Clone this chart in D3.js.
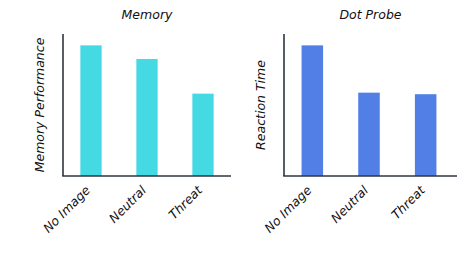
<!DOCTYPE html>
<html>
<head>
<meta charset="utf-8">
<script src="https://cdn.jsdelivr.net/npm/d3@7"></script>
<style>
  body { margin: 0; background: #fff; }
  text { font-family: "DejaVu Sans", sans-serif; font-style: italic; fill: #111; }
</style>
</head>
<body>
<div id="chart"></div>
<script>
// two small panels: memory score vs dot-probe reaction time

const categories = ["No Image", "Neutral", "Threat"];
const memoryValues = [92, 82.4, 58];
const dotProbeValues = [92, 58.7, 57.6];

const panels = [
  { title: "Memory", ylabel: "Memory Performance", values: memoryValues, color: "#45d9e3", x0: 63, x1: 231, end: 231 },
  { title: "Dot Probe", ylabel: "Reaction Time", values: dotProbeValues, color: "#527fe6", x0: 284, x1: 454, end: 457 }
];

const W = 474, H = 266;
const plotTop = 34, plotBottom = 176;

const svg = d3.select("#chart").append("svg")
  .attr("width", W)
  .attr("height", H);

const y = d3.scaleLinear().domain([0, 100]).range([plotBottom, plotTop]);

panels.forEach(p => {
  const g = svg.append("g");

  const x = d3.scaleBand()
    .domain(categories)
    .range([p.x0, p.x1])
    .paddingInner(0.62)
    .paddingOuter(0.31);

  // bars
  g.selectAll(".bar")
    .data(categories.map((c, i) => ({ c, v: p.values[i] })))
    .enter().append("rect")
    .attr("class", "bar")
    .attr("x", d => x(d.c))
    .attr("y", d => y(d.v))
    .attr("width", x.bandwidth())
    .attr("height", d => plotBottom - y(d.v))
    .attr("fill", p.color);

  // axes (just the two lines)
  g.append("line")
    .attr("x1", p.x0).attr("x2", p.x0)
    .attr("y1", plotTop).attr("y2", plotBottom)
    .attr("stroke", "#2e3440").attr("stroke-width", 1.6);
  g.append("line")
    .attr("x1", p.x0 - 0.8).attr("x2", p.end)
    .attr("y1", plotBottom).attr("y2", plotBottom)
    .attr("stroke", "#2e3440").attr("stroke-width", 1.6);

  // category labels
  g.selectAll(".xlab")
    .data(categories)
    .enter().append("text")
    .attr("class", "xlab")
    .attr("transform", d => `translate(${x(d) + x.bandwidth() / 2},${plotBottom + 15}) rotate(-45)`)
    .attr("text-anchor", "end")
    .style("font-size", "12.5px")
    .text(d => d);

  // title
  g.append("text")
    .attr("x", (p.x0 + p.end) / 2)
    .attr("y", 19)
    .attr("text-anchor", "middle")
    .style("font-size", "12.5px")
    .text(p.title);

  // y label
  g.append("text")
    .attr("transform", `translate(${p.x0 - 19},${(plotTop + plotBottom) / 2}) rotate(-90)`)
    .attr("text-anchor", "middle")
    .style("font-size", "12.5px")
    .text(p.ylabel);
});
</script>
</body>
</html>
